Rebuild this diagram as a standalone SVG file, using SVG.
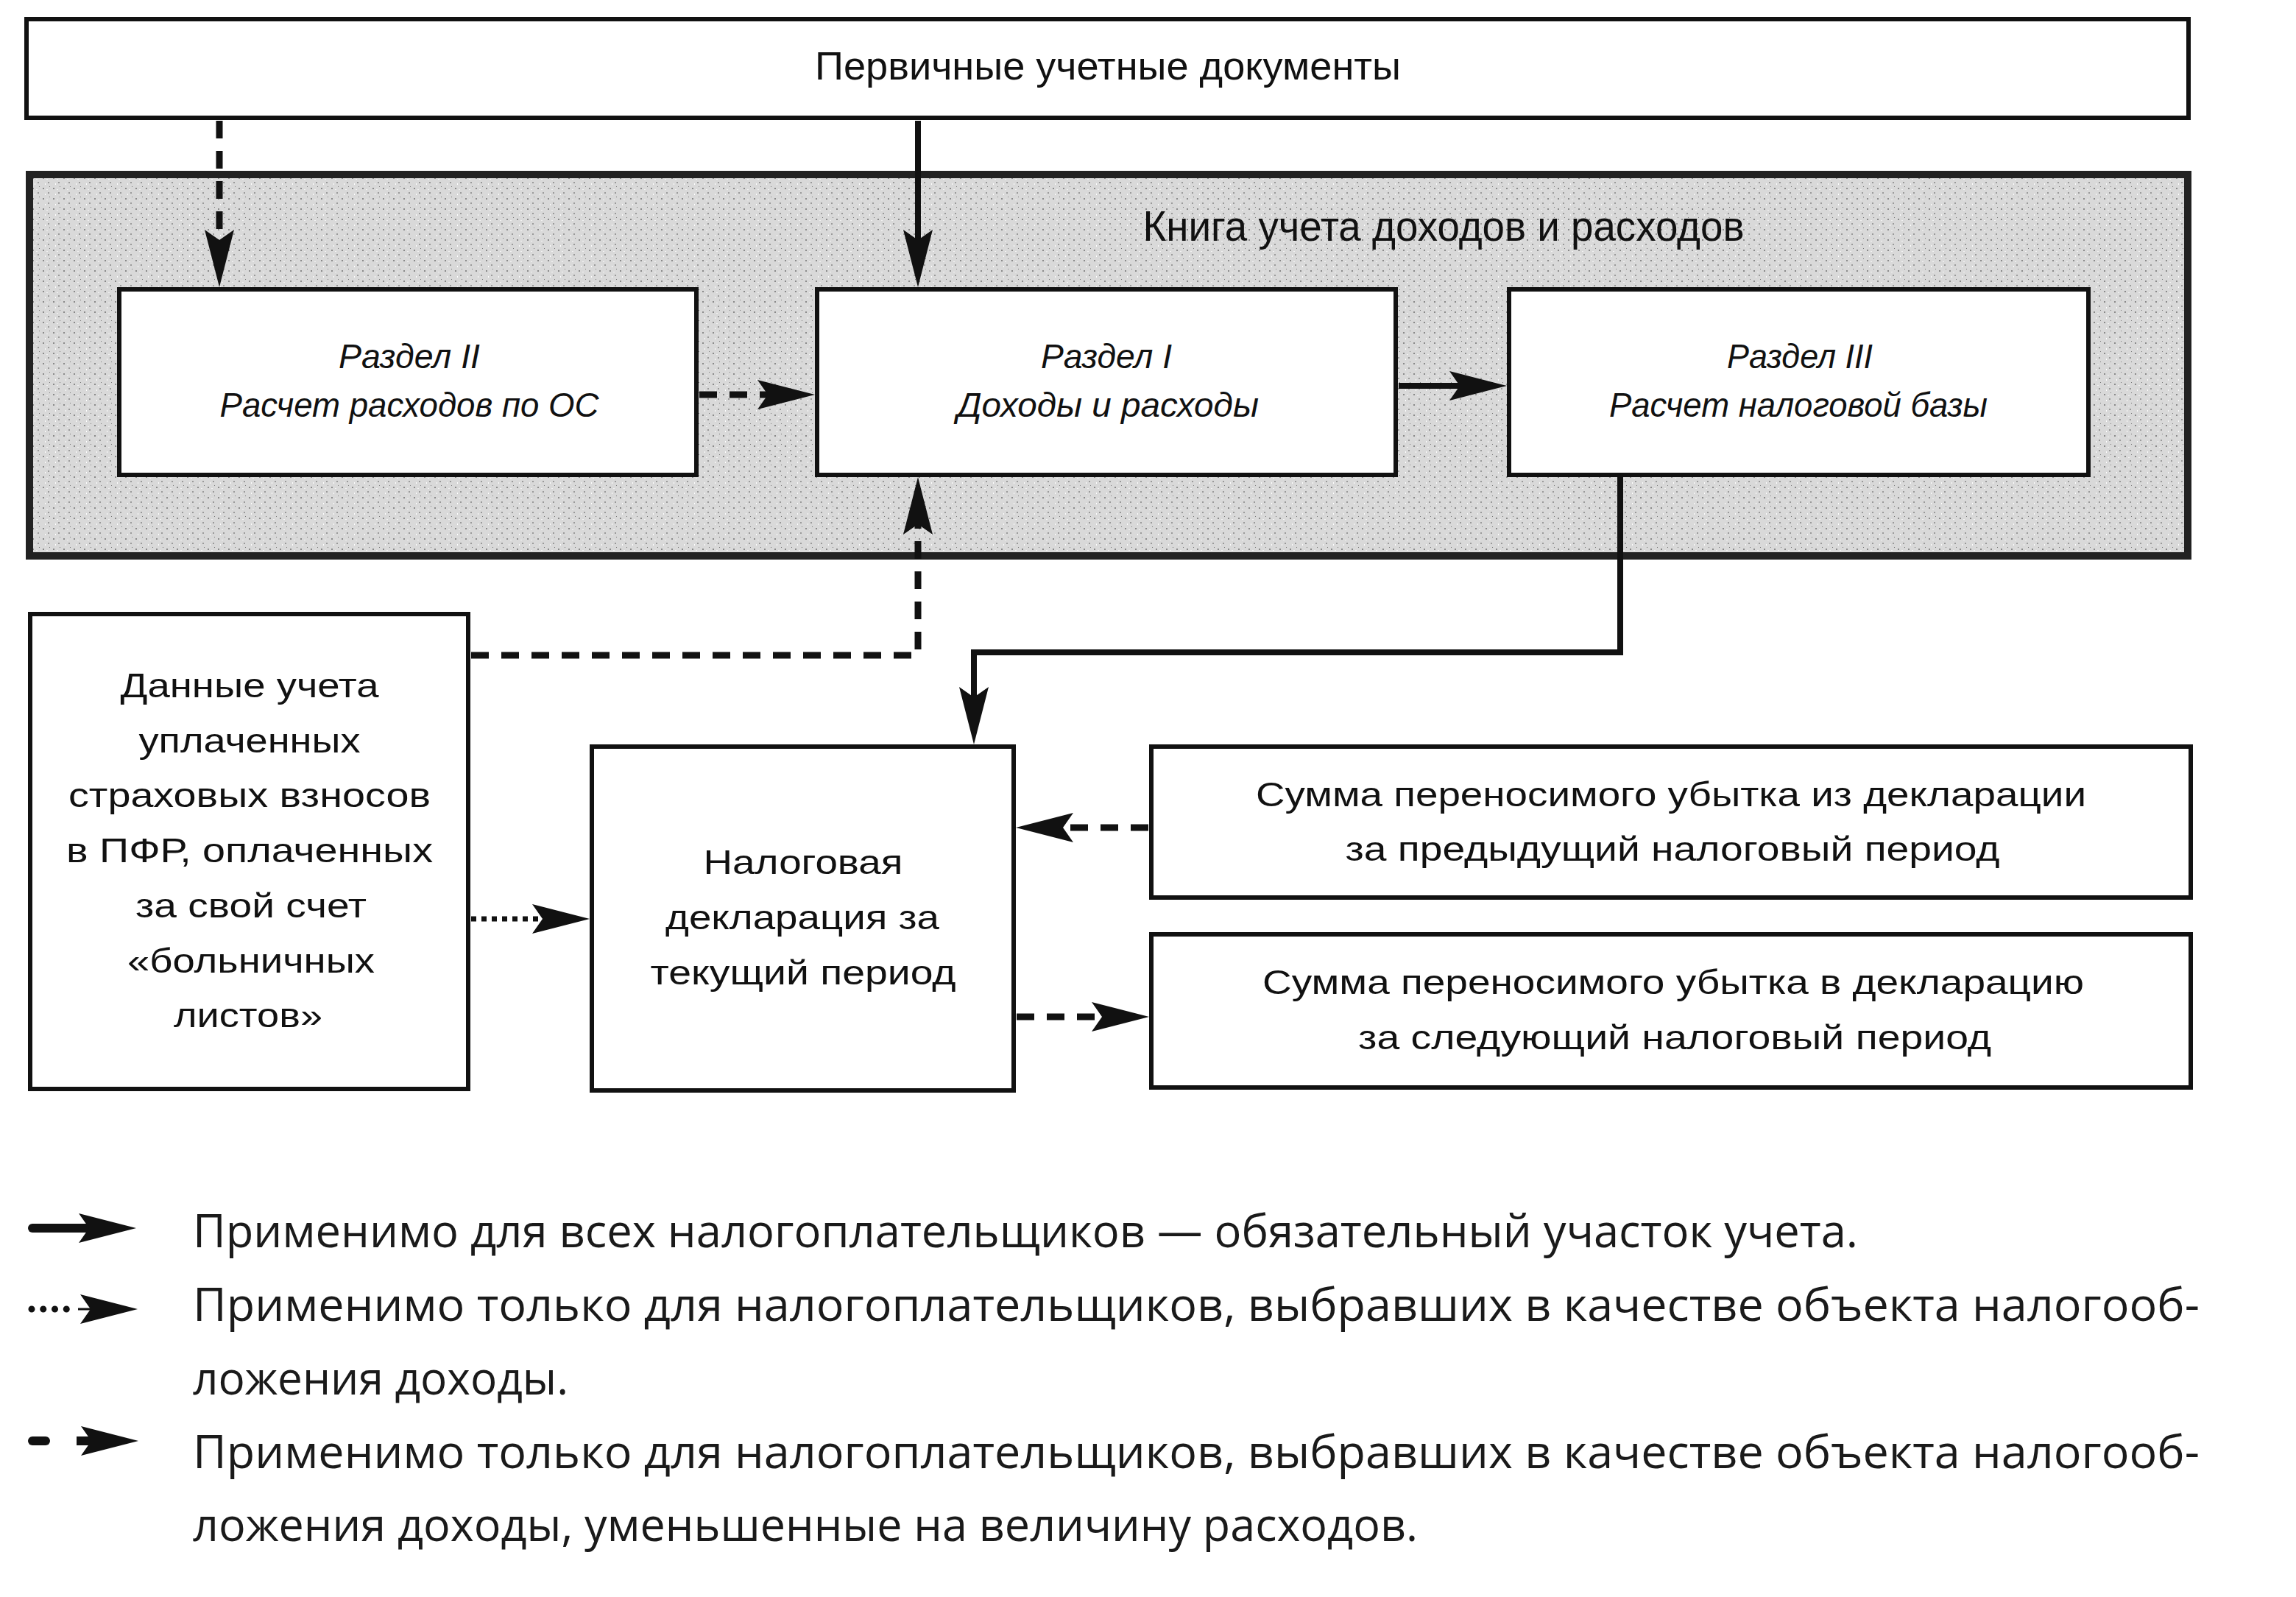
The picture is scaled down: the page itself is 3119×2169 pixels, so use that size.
<svg xmlns="http://www.w3.org/2000/svg" width="3119" height="2169" viewBox="0 0 3119 2169">
<defs>
<style>
.box{fill:#fff;stroke:#111;stroke-width:6}
.panel{fill:url(#stip);stroke:#222;stroke-width:10}
.t{font-family:"Liberation Sans",Arial,sans-serif;font-size:47px;text-anchor:middle;fill:#111}
.it{font-style:italic}
.lg{font-family:"Open Sans","Liberation Sans",sans-serif;font-size:62px;fill:#1a1a1a}
.solid{fill:none;stroke:#111;stroke-width:8}
.dash{fill:none;stroke:#111;stroke-width:9;stroke-dasharray:24 17}
.dot{fill:none;stroke:#111;stroke-width:7;stroke-dasharray:7 7}
.arr{marker-end:url(#ah)}
</style>
<pattern id="stip" width="14" height="14" patternUnits="userSpaceOnUse">
<rect width="14" height="14" fill="#d9d9d9"/>
<rect x="2" y="3" width="2" height="2" fill="#8a8a8a"/>
<rect x="9" y="9" width="2" height="2" fill="#9a9a9a"/>
<rect x="11" y="1" width="1" height="1" fill="#777"/>
<rect x="5" y="11" width="1" height="2" fill="#fff"/>
<rect x="7" y="5" width="2" height="1" fill="#f2f2f2"/>
</pattern>
<marker id="ah" viewBox="0 0 78 44" refX="20" refY="22" markerWidth="78" markerHeight="44" markerUnits="userSpaceOnUse" orient="auto">
<path d="M0,2 L78,22 L0,42 L14,22 Z" fill="#111"/>
</marker>
</defs>
<rect width="3119" height="2169" fill="#fff"/>

<g id="panel-kniga">
<rect class="panel" x="40" y="237" width="2932" height="518"/>
<text class="t" x="1961" y="327" font-size="58" textLength="817" lengthAdjust="spacingAndGlyphs" style="font-size:58px">Книга учета доходов и расходов</text>
</g>

<g id="node-primary">
<rect class="box" x="36" y="26" width="2937" height="134"/>
<text class="t" x="1505" y="108" textLength="796" lengthAdjust="spacingAndGlyphs" style="font-size:53px">Первичные учетные документы</text>
</g>

<g id="node-razdel2">
<rect class="box" x="162" y="393" width="784" height="252"/>
<text class="t it" x="556" y="500" textLength="192" lengthAdjust="spacingAndGlyphs">Раздел II</text>
<text class="t it" x="556" y="566" textLength="515" lengthAdjust="spacingAndGlyphs">Расчет расходов по ОС</text>
</g>

<g id="node-razdel1">
<rect class="box" x="1110" y="393" width="786" height="252"/>
<text class="t it" x="1503" y="500" textLength="178" lengthAdjust="spacingAndGlyphs">Раздел I</text>
<text class="t it" x="1505" y="566" textLength="410" lengthAdjust="spacingAndGlyphs">Доходы и расходы</text>
</g>

<g id="node-razdel3">
<rect class="box" x="2050" y="393" width="787" height="252"/>
<text class="t it" x="2445" y="500" textLength="198" lengthAdjust="spacingAndGlyphs">Раздел III</text>
<text class="t it" x="2443" y="566" textLength="514" lengthAdjust="spacingAndGlyphs">Расчет налоговой базы</text>
</g>

<g id="node-dannye">
<rect class="box" x="41" y="834" width="595" height="645"/>
<text class="t" x="339" y="947" textLength="351" lengthAdjust="spacingAndGlyphs">Данные учета</text>
<text class="t" x="339" y="1022" textLength="301" lengthAdjust="spacingAndGlyphs">уплаченных</text>
<text class="t" x="339" y="1096" textLength="492" lengthAdjust="spacingAndGlyphs">страховых взносов</text>
<text class="t" x="339" y="1171" textLength="498" lengthAdjust="spacingAndGlyphs">в ПФР, оплаченных</text>
<text class="t" x="341" y="1246" textLength="314" lengthAdjust="spacingAndGlyphs">за свой счет</text>
<text class="t" x="341" y="1321" textLength="336" lengthAdjust="spacingAndGlyphs">«больничных</text>
<text class="t" x="337" y="1395" textLength="202" lengthAdjust="spacingAndGlyphs">листов»</text>
</g>

<g id="node-declaration">
<rect class="box" x="804" y="1014" width="573" height="467"/>
<text class="t" x="1091" y="1187" textLength="271" lengthAdjust="spacingAndGlyphs">Налоговая</text>
<text class="t" x="1090" y="1262" textLength="372" lengthAdjust="spacingAndGlyphs">декларация за</text>
<text class="t" x="1091" y="1337" textLength="415" lengthAdjust="spacingAndGlyphs">текущий период</text>
</g>

<g id="node-loss-prev">
<rect class="box" x="1564" y="1014" width="1412" height="205"/>
<text class="t" x="2270" y="1095" textLength="1128" lengthAdjust="spacingAndGlyphs">Сумма переносимого убытка из декларации</text>
<text class="t" x="2272" y="1169" textLength="889" lengthAdjust="spacingAndGlyphs">за предыдущий налоговый период</text>
</g>

<g id="node-loss-next">
<rect class="box" x="1564" y="1269" width="1412" height="208"/>
<text class="t" x="2273" y="1350" textLength="1116" lengthAdjust="spacingAndGlyphs">Сумма переносимого убытка в декларацию</text>
<text class="t" x="2275" y="1425" textLength="860" lengthAdjust="spacingAndGlyphs">за следующий налоговый период</text>
</g>

<g id="connectors">
<path class="dash arr" d="M298,164 V332"/>
<path class="solid arr" d="M1247,164 V332"/>
<path class="dash arr" d="M950,536 H1049"/>
<path class="solid arr" d="M1900,524 H1989"/>
<path class="dash arr" d="M640,890 H1247 V706"/>
<path class="solid arr" d="M2201,648 V886 H1323 V953"/>
<path class="dash arr" d="M1560,1124 H1438"/>
<path class="dash arr" d="M1381,1381 H1503"/>
<path class="dot arr" d="M640,1248 H743"/>
</g>

<g id="legend">
<path d="M44,1668 H127" fill="none" stroke="#111" stroke-width="12" stroke-linecap="round" marker-end="url(#ah)"/>
<path d="M43,1778 H106" fill="none" stroke="#111" stroke-width="9" stroke-linecap="round" stroke-dasharray="0 15.75"/>
<path d="M106,1778 H129" fill="none" stroke="#111" stroke-width="3" marker-end="url(#ah)"/>
<path d="M44,1957 H62" fill="none" stroke="#111" stroke-width="12" stroke-linecap="round"/>
<path d="M104,1957 H130" fill="none" stroke="#111" stroke-width="12" marker-end="url(#ah)"/>
<text class="lg" x="262" y="1694" textLength="2262" lengthAdjust="spacingAndGlyphs">Применимо для всех налогоплательщиков — обязательный участок учета.</text>
<text class="lg" x="262" y="1794" textLength="2726" lengthAdjust="spacingAndGlyphs">Применимо только для налогоплательщиков, выбравших в качестве объекта налогооб-</text>
<text class="lg" x="262" y="1894" textLength="510" lengthAdjust="spacingAndGlyphs">ложения доходы.</text>
<text class="lg" x="262" y="1994" textLength="2726" lengthAdjust="spacingAndGlyphs">Применимо только для налогоплательщиков, выбравших в качестве объекта налогооб-</text>
<text class="lg" x="262" y="2093" textLength="1664" lengthAdjust="spacingAndGlyphs">ложения доходы, уменьшенные на величину расходов.</text>
</g>
</svg>
